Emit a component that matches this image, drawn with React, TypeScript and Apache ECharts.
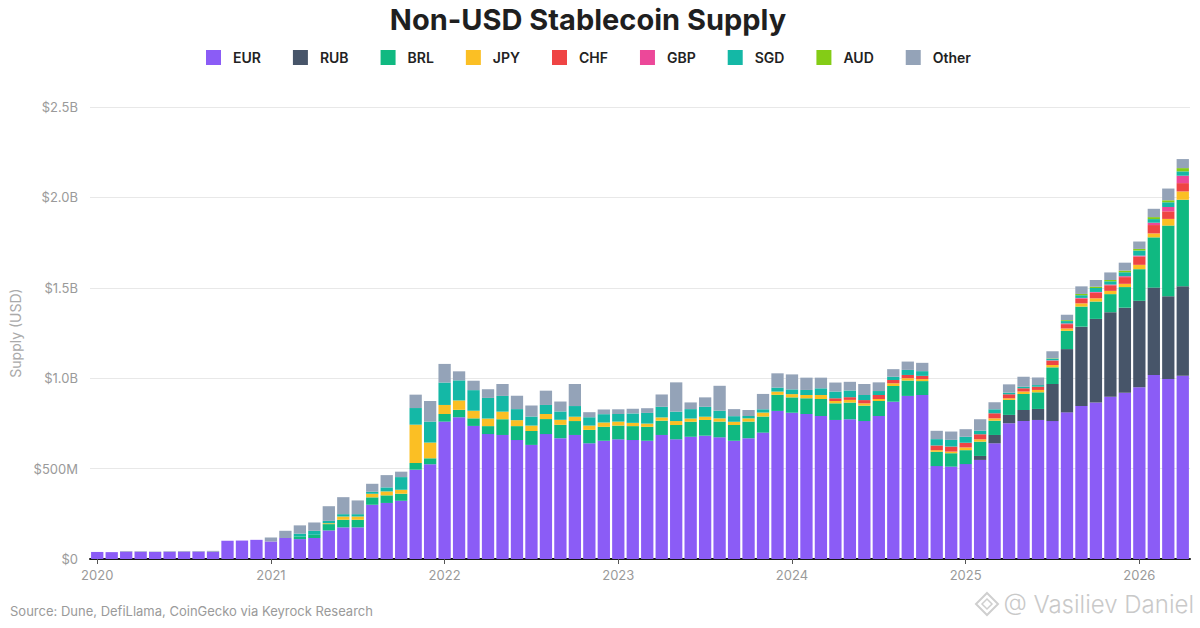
import React, { useEffect, useRef } from "react";
import * as echarts from "echarts";

const months: string[] = [];
for (let y = 2020; y <= 2026; y++) {
  for (let m = 1; m <= 12; m++) {
    if (y === 2026 && m > 4) break;
    months.push(`${y}-${String(m).padStart(2, "0")}`);
  }
}

const seriesNames = ["EUR", "RUB", "BRL", "JPY", "CHF", "GBP", "SGD", "AUD", "Other"];
const seriesColors = ["#8b5cf6", "#475569", "#10b981", "#fbbf24", "#ef4444", "#ec4899", "#14b8a6", "#84cc16", "#94a3b8"];

// values in millions USD, monthly 2020-01 .. 2026-04
const EUR = [
  39, 38, 41, 40, 39, 40, 41, 41, 40, 101, 102, 106,
  97, 116, 110, 116, 158, 175, 175, 300, 310, 322, 494, 524,
  760, 784, 736, 691, 686, 658, 631, 691, 668, 686, 640, 654,
  662, 658, 654, 686, 662, 676, 682, 673, 654, 668, 699, 819,
  809, 802, 791, 769, 773, 763, 791, 870, 902, 907, 514, 511,
  525, 548, 640, 751, 763, 769, 763, 811, 846, 865, 898, 920,
  950, 1018, 996, 1014,
];
const RUB = [
  0, 0, 0, 0, 0, 0, 0, 0, 0, 0, 0, 0,
  0, 0, 0, 0, 0, 0, 0, 0, 0, 0, 0, 0,
  0, 0, 0, 0, 0, 0, 0, 0, 0, 0, 0, 0,
  0, 0, 0, 0, 0, 0, 0, 0, 0, 0, 0, 0,
  0, 0, 0, 0, 0, 0, 0, 0, 0, 0, 0, 0,
  0, 22, 46, 46, 61, 61, 205, 350, 439, 463, 467, 470,
  478, 483, 457, 494,
];
const BRL = [
  0, 0, 0, 0, 0, 0, 0, 0, 0, 0, 0, 0,
  0, 0, 15, 18, 35, 42, 42, 41, 42, 39, 37, 33,
  42, 41, 42, 44, 87, 77, 77, 83, 74, 77, 74, 77,
  76, 77, 77, 79, 79, 83, 87, 87, 87, 92, 89, 89,
  85, 87, 94, 92, 92, 85, 83, 87, 85, 77, 79, 74,
  77, 79, 79, 83, 89, 92, 92, 101, 111, 96, 100, 114,
  175, 278, 391, 479,
];
const JPY = [
  0, 0, 0, 0, 0, 0, 0, 0, 0, 0, 0, 0,
  0, 0, 0, 0, 5, 18, 18, 20, 22, 22, 212, 87,
  50, 52, 42, 42, 42, 33, 30, 28, 28, 24, 24, 24,
  22, 18, 18, 18, 22, 18, 18, 18, 18, 18, 22, 18,
  18, 18, 22, 13, 15, 13, 11, 15, 13, 11, 9, 9,
  15, 13, 13, 9, 13, 13, 13, 13, 18, 18, 18, 18,
  24, 22, 37, 46,
];
const CHF = [
  0, 0, 0, 0, 0, 0, 0, 0, 0, 0, 0, 0,
  0, 0, 0, 0, 0, 0, 0, 0, 0, 0, 0, 0,
  0, 0, 0, 0, 0, 0, 0, 0, 0, 0, 0, 0,
  0, 0, 0, 0, 0, 0, 0, 0, 0, 0, 0, 0,
  0, 0, 0, 15, 15, 18, 22, 18, 18, 18, 26, 28,
  26, 28, 28, 22, 18, 18, 24, 24, 26, 31, 31, 37,
  46, 46, 42, 46,
];
const GBP = [
  0, 0, 0, 0, 0, 0, 0, 0, 0, 0, 0, 0,
  0, 0, 0, 0, 0, 0, 0, 0, 0, 0, 0, 0,
  0, 0, 0, 0, 0, 0, 0, 0, 0, 0, 0, 0,
  0, 0, 0, 0, 0, 0, 0, 0, 0, 0, 0, 0,
  0, 0, 0, 0, 0, 0, 0, 0, 0, 0, 0, 0,
  0, 0, 0, 0, 0, 0, 2, 4, 4, 4, 4, 5,
  5, 13, 24, 41,
];
const SGD = [
  0, 0, 0, 0, 0, 0, 0, 0, 0, 0, 0, 0,
  0, 0, 15, 22, 13, 13, 13, 11, 22, 70, 92, 116,
  124, 111, 114, 114, 87, 61, 50, 50, 46, 59, 46, 46,
  42, 52, 59, 59, 52, 52, 55, 42, 31, 13, 18, 22,
  26, 28, 37, 37, 37, 28, 22, 18, 28, 26, 35, 37,
  33, 20, 22, 9, 9, 9, 9, 13, 15, 22, 18, 22,
  28, 20, 26, 24,
];
const AUD = [
  0, 0, 0, 0, 0, 0, 0, 0, 0, 0, 0, 0,
  0, 0, 0, 0, 0, 0, 0, 0, 0, 0, 0, 0,
  0, 0, 0, 0, 0, 0, 0, 0, 0, 0, 0, 0,
  0, 0, 0, 0, 0, 0, 0, 0, 0, 0, 0, 0,
  0, 0, 0, 0, 0, 0, 0, 0, 0, 0, 0, 0,
  0, 0, 0, 0, 0, 0, 2, 5, 7, 7, 7, 9,
  9, 11, 11, 18,
];
const Other = [
  0, 0, 3, 3, 2, 3, 3, 3, 5, 0, 0, 0,
  22, 40, 46, 46, 81, 94, 76, 44, 68, 30, 74, 114,
  103, 50, 52, 48, 66, 74, 61, 79, 55, 122, 28, 26,
  26, 26, 26, 68, 162, 37, 52, 138, 39, 33, 85, 79,
  83, 68, 59, 50, 48, 61, 48, 42, 46, 46, 46, 46,
  42, 63, 39, 46, 55, 42, 39, 30, 42, 37, 42, 44,
  41, 46, 65, 50,
];

const seriesData = [EUR, RUB, BRL, JPY, CHF, GBP, SGD, AUD, Other];

const yTicks = [0, 500, 1000, 1500, 2000, 2500];
const yTickLabels = ["$0", "$500M", "$1.0B", "$1.5B", "$2.0B", "$2.5B"];

const titleText = "Non-USD Stablecoin Supply";
const sourceText = "Source: Dune, DefiLlama, CoinGecko via Keyrock Research";
const watermarkText = "@ Vasiliev Daniel";

export default function App() {
  const ref = useRef<HTMLDivElement>(null);
  useEffect(() => {
    if (!ref.current) return;
    const chart = echarts.init(ref.current, undefined, { renderer: "svg" });
    const font = "Inter, 'Liberation Sans', Arial, sans-serif";
    chart.setOption({
      animation: false,
      backgroundColor: "#ffffff",
      textStyle: { fontFamily: font },
      legend: {
        data: seriesNames,
        left: 201,
        top: 45,
        icon: "rect",
        itemWidth: 15,
        itemHeight: 15,
        itemGap: 32,
        selectedMode: false,
        textStyle: {
          fontFamily: font,
          fontSize: 14,
          fontWeight: 600,
          color: "#222",
          padding: [0, 0, 0, 7],
        },
      },
      grid: { left: 90, right: 10, top: 107, bottom: 69, containLabel: false },
      xAxis: {
        type: "category",
        data: months,
        boundaryGap: true,
        axisLine: { show: true, lineStyle: { color: "#1a1a1a", width: 2 } },
        axisTick: {
          show: true,
          alignWithLabel: true,
          interval: (i: number) => i % 12 === 0,
          length: 5,
          lineStyle: { color: "#555", width: 1 },
        },
        axisLabel: {
          interval: (i: number) => i % 12 === 0,
          formatter: (v: string) => v.slice(0, 4),
          color: "#9a9a9a",
          fontSize: 13,
          margin: 9,
          fontFamily: font,
        },
        splitLine: { show: false },
      },
      yAxis: {
        type: "value",
        min: yTicks[0],
        max: yTicks[yTicks.length - 1],
        interval: 500,
        name: "Supply (USD)",
        nameLocation: "middle",
        nameGap: 64,
        nameTextStyle: { color: "#aaaaaa", fontSize: 14, fontFamily: font },
        axisLine: { show: false },
        axisTick: { show: false },
        axisLabel: {
          color: "#9a9a9a",
          fontSize: 13,
          margin: 12,
          fontFamily: font,
          formatter: (v: number) => {
            const i = yTicks.indexOf(v);
            return i >= 0 ? yTickLabels[i] : "";
          },
        },
        splitLine: { lineStyle: { color: "#e8e8e8", width: 1 } },
      },
      series: seriesNames.map((name, i) => ({
        name,
        type: "bar",
        stack: "total",
        data: seriesData[i],
        barCategoryGap: "15%",
        itemStyle: { color: seriesColors[i] },
        emphasis: { disabled: true },
      })),
      graphic: [
        {
          type: "text",
          x: 588,
          y: 5,
          style: {
            text: titleText,
            align: "center",
            verticalAlign: "top",
            font: `700 29px ${font}`,
            fill: "#1f1f1f",
          },
        },
        {
          type: "text",
          x: 10,
          y: 611,
          style: {
            text: sourceText,
            align: "left",
            verticalAlign: "middle",
            font: `400 13px ${font}`,
            fill: "#9a9a9a",
          },
        },
        {
          type: "text",
          x: 1194,
          y: 604,
          style: {
            text: watermarkText,
            align: "right",
            verticalAlign: "middle",
            font: `300 24px ${font}`,
            fill: "#c9c9c9",
          },
        },
        {
          type: "polygon",
          shape: { points: [[987, 593], [998, 604], [987, 615], [976, 604]] },
          style: { fill: "none", stroke: "#cfcfcf", lineWidth: 2 },
        },
        {
          type: "polygon",
          shape: { points: [[987, 599], [992, 604], [987, 609], [982, 604]] },
          style: { fill: "none", stroke: "#cfcfcf", lineWidth: 1.5 },
        },
      ],
    });
    return () => chart.dispose();
  }, []);
  return (
    <div
      ref={ref}
      style={{ position: "fixed", left: 0, top: 0, width: 1200, height: 628 }}
    />
  );
}
